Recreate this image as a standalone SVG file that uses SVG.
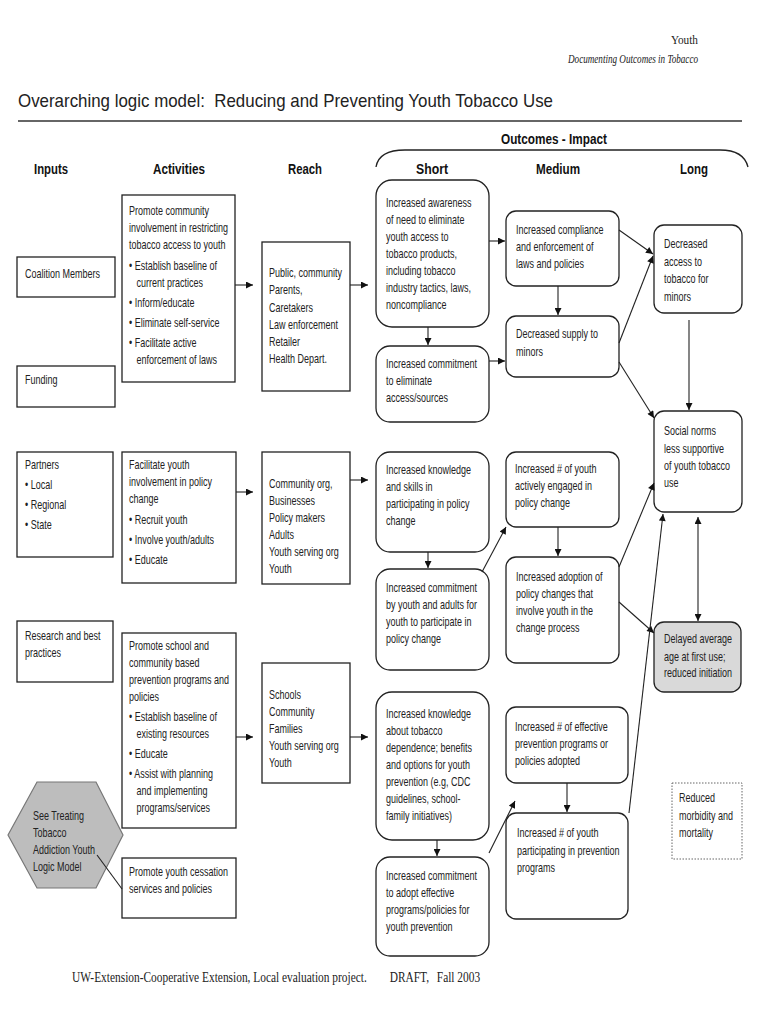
<svg xmlns="http://www.w3.org/2000/svg" width="768" height="1024" viewBox="0 0 768 1024">
<defs>
<style>
.t{font-family:"Liberation Sans",Arial,sans-serif;font-size:12px;fill:#222}
.h{font-family:"Liberation Sans",Arial,sans-serif;font-size:15px;font-weight:bold;fill:#111}
.sv{font-family:"Liberation Serif","Times New Roman",serif;fill:#222}
.box{fill:#fff;stroke:#222;stroke-width:1.3}
.rb{fill:#fff;stroke:#222;stroke-width:1.3}
.c line,.c path{stroke:#222;stroke-width:1.1;fill:none}
.c .a{marker-end:url(#ah)}
</style>
<marker id="ah" viewBox="0 0 10 10" refX="10" refY="5" markerWidth="8" markerHeight="7" markerUnits="userSpaceOnUse" orient="auto-start-reverse">
<path d="M0,0 L10,5 L0,10 z" fill="#111"/>
</marker>
</defs>
<rect width="768" height="1024" fill="#fff"/>

<g id="header">
<text class="sv" x="698" y="44" font-size="12" text-anchor="end" textLength="27" lengthAdjust="spacingAndGlyphs">Youth</text>
<text class="sv" x="698" y="63" font-size="12" font-style="italic" text-anchor="end" textLength="130" lengthAdjust="spacingAndGlyphs">Documenting Outcomes in Tobacco</text>
<text x="18" y="107" xml:space="preserve" font-family="Liberation Sans,Arial,sans-serif" font-size="19" fill="#222" textLength="535" lengthAdjust="spacingAndGlyphs">Overarching logic model:  Reducing and Preventing Youth Tobacco Use</text>
<line x1="18" y1="121" x2="742" y2="121" stroke="#333" stroke-width="1.5"/>
<text class="h" x="554" y="144" text-anchor="middle" textLength="106" lengthAdjust="spacingAndGlyphs">Outcomes - Impact</text>
<path d="M376,167 C378,155 388,150 405,150 L720,150 C735,150 745,155 748,167" fill="none" stroke="#222" stroke-width="1.3"/>
<text class="h" x="51" y="174" text-anchor="middle" textLength="34" lengthAdjust="spacingAndGlyphs">Inputs</text>
<text class="h" x="179" y="174" text-anchor="middle" textLength="52" lengthAdjust="spacingAndGlyphs">Activities</text>
<text class="h" x="305" y="174" text-anchor="middle" textLength="34" lengthAdjust="spacingAndGlyphs">Reach</text>
<text class="h" x="432" y="174" text-anchor="middle" textLength="32" lengthAdjust="spacingAndGlyphs">Short</text>
<text class="h" x="558" y="174" text-anchor="middle" textLength="44" lengthAdjust="spacingAndGlyphs">Medium</text>
<text class="h" x="694" y="174" text-anchor="middle" textLength="28" lengthAdjust="spacingAndGlyphs">Long</text>
</g>

<g id="in1"><rect class="box" x="17" y="257" width="98" height="40"/>
<text class="t" transform="translate(25 0) scale(0.75 1)"><tspan x="0" y="278">Coalition Members</tspan></text></g>
<g id="in2"><rect class="box" x="17" y="366" width="98" height="41"/>
<text class="t" transform="translate(25 0) scale(0.75 1)"><tspan x="0" y="384">Funding</tspan></text></g>
<g id="in3"><rect class="box" x="17" y="452" width="96" height="105"/>
<text class="t" transform="translate(25 0) scale(0.75 1)"><tspan x="0" y="469">Partners</tspan><tspan x="0" y="489">• Local</tspan><tspan x="0" y="509">• Regional</tspan><tspan x="0" y="529">• State</tspan></text></g>
<g id="in4"><rect class="box" x="17" y="621" width="96" height="61"/>
<text class="t" transform="translate(25 0) scale(0.75 1)"><tspan x="0" y="640">Research and best</tspan><tspan x="0" y="657">practices</tspan></text></g>
<g id="hex"><polygon points="8,835 37,782 96,782 123,835 96,888 37,888" fill="#bdbdbd" stroke="#777" stroke-width="1.2"/>
<text class="t" transform="translate(33 0) scale(0.75 1)"><tspan x="0" y="820">See Treating</tspan><tspan x="0" y="837">Tobacco</tspan><tspan x="0" y="854">Addiction Youth</tspan><tspan x="0" y="871">Logic Model</tspan></text></g>

<g id="act1"><rect class="box" x="122" y="195" width="113" height="187"/>
<text class="t" transform="translate(129 0) scale(0.75 1)"><tspan x="0" y="215">Promote community</tspan><tspan x="0" y="232">involvement in restricting</tspan><tspan x="0" y="249">tobacco access to youth</tspan><tspan x="0" y="270">• Establish baseline of</tspan><tspan x="10" y="287">current practices</tspan><tspan x="0" y="307">• Inform/educate</tspan><tspan x="0" y="327">• Eliminate self-service</tspan><tspan x="0" y="347">•  Facilitate active</tspan><tspan x="10" y="364">enforcement of laws</tspan></text></g>
<g id="act2"><rect class="box" x="122" y="452" width="114" height="131"/>
<text class="t" transform="translate(129 0) scale(0.75 1)"><tspan x="0" y="469">Facilitate youth</tspan><tspan x="0" y="486">involvement in policy</tspan><tspan x="0" y="503">change</tspan><tspan x="0" y="524">• Recruit youth</tspan><tspan x="0" y="544">• Involve youth/adults</tspan><tspan x="0" y="564">• Educate</tspan></text></g>
<g id="act3"><rect class="box" x="122" y="633" width="114" height="195"/>
<text class="t" transform="translate(129 0) scale(0.75 1)"><tspan x="0" y="650">Promote school and</tspan><tspan x="0" y="667">community based</tspan><tspan x="0" y="684">prevention programs and</tspan><tspan x="0" y="701">policies</tspan><tspan x="0" y="721">• Establish baseline of</tspan><tspan x="10" y="738">existing  resources</tspan><tspan x="0" y="758">• Educate</tspan><tspan x="0" y="778">• Assist with planning</tspan><tspan x="10" y="795">and implementing</tspan><tspan x="10" y="812">programs/services</tspan></text></g>
<g id="act4"><rect class="box" x="122" y="858" width="114" height="60"/>
<text class="t" transform="translate(129 0) scale(0.75 1)"><tspan x="0" y="876">Promote youth cessation</tspan><tspan x="0" y="893">services and policies</tspan></text></g>

<g id="reach1"><rect class="box" x="262" y="242" width="88" height="149"/>
<text class="t" transform="translate(269 0) scale(0.75 1)"><tspan x="0" y="277">Public, community</tspan><tspan x="0" y="294">Parents,</tspan><tspan x="0" y="312">Caretakers</tspan><tspan x="0" y="329">Law enforcement</tspan><tspan x="0" y="346">Retailer</tspan><tspan x="0" y="363">Health Depart.</tspan></text></g>
<g id="reach2"><rect class="box" x="262" y="452" width="88" height="132"/>
<text class="t" transform="translate(269 0) scale(0.75 1)"><tspan x="0" y="488">Community org,</tspan><tspan x="0" y="505">Businesses</tspan><tspan x="0" y="522">Policy makers</tspan><tspan x="0" y="539">Adults</tspan><tspan x="0" y="556">Youth serving org</tspan><tspan x="0" y="573">Youth</tspan></text></g>
<g id="reach3"><rect class="box" x="262" y="663" width="88" height="120"/>
<text class="t" transform="translate(269 0) scale(0.75 1)"><tspan x="0" y="699">Schools</tspan><tspan x="0" y="716">Community</tspan><tspan x="0" y="733">Families</tspan><tspan x="0" y="750">Youth serving org</tspan><tspan x="0" y="767">Youth</tspan></text></g>

<g id="s1"><rect class="rb" x="376" y="180" width="113" height="147" rx="16"/>
<text class="t" transform="translate(386 0) scale(0.75 1)"><tspan x="0" y="207">Increased awareness</tspan><tspan x="0" y="224">of need to eliminate</tspan><tspan x="0" y="241">youth access to</tspan><tspan x="0" y="258">tobacco products,</tspan><tspan x="0" y="275">including tobacco</tspan><tspan x="0" y="292">industry tactics, laws,</tspan><tspan x="0" y="309">noncompliance</tspan></text></g>
<g id="s2"><rect class="rb" x="376" y="346" width="113" height="76" rx="14"/>
<text class="t" transform="translate(386 0) scale(0.75 1)"><tspan x="0" y="368">Increased commitment</tspan><tspan x="0" y="385">to eliminate</tspan><tspan x="0" y="402">access/sources</tspan></text></g>
<g id="s3"><rect class="rb" x="376" y="452" width="113" height="100" rx="14"/>
<text class="t" transform="translate(386 0) scale(0.75 1)"><tspan x="0" y="474">Increased knowledge</tspan><tspan x="0" y="491">and skills in</tspan><tspan x="0" y="508">participating in policy</tspan><tspan x="0" y="525">change</tspan></text></g>
<g id="s4"><rect class="rb" x="376" y="569" width="113" height="101" rx="14"/>
<text class="t" transform="translate(386 0) scale(0.75 1)"><tspan x="0" y="592">Increased commitment</tspan><tspan x="0" y="609">by youth and adults for</tspan><tspan x="0" y="626">youth to participate in</tspan><tspan x="0" y="643">policy change</tspan></text></g>
<g id="s5"><rect class="rb" x="376" y="692" width="113" height="148" rx="16"/>
<text class="t" transform="translate(386 0) scale(0.75 1)"><tspan x="0" y="718">Increased knowledge</tspan><tspan x="0" y="735">about tobacco</tspan><tspan x="0" y="752">dependence; benefits</tspan><tspan x="0" y="769">and options for youth</tspan><tspan x="0" y="786">prevention (e.g, CDC</tspan><tspan x="0" y="803">guidelines, school-</tspan><tspan x="0" y="820">family initiatives)</tspan></text></g>
<g id="s6"><rect class="rb" x="376" y="857" width="113" height="99" rx="14"/>
<text class="t" transform="translate(386 0) scale(0.75 1)"><tspan x="0" y="880">Increased commitment</tspan><tspan x="0" y="897">to adopt effective</tspan><tspan x="0" y="914">programs/policies for</tspan><tspan x="0" y="931">youth prevention</tspan></text></g>

<g id="m1"><rect class="rb" x="506" y="211" width="113" height="75" rx="10"/>
<text class="t" transform="translate(516 0) scale(0.75 1)"><tspan x="0" y="234">Increased compliance</tspan><tspan x="0" y="251">and enforcement of</tspan><tspan x="0" y="268">laws and policies</tspan></text></g>
<g id="m2"><rect class="rb" x="506" y="316" width="113" height="61" rx="10"/>
<text class="t" transform="translate(516 0) scale(0.75 1)"><tspan x="0" y="338">Decreased supply to</tspan><tspan x="0" y="356">minors</tspan></text></g>
<g id="m3"><rect class="rb" x="506" y="452" width="113" height="75" rx="10"/>
<text class="t" transform="translate(515 0) scale(0.75 1)"><tspan x="0" y="473">Increased # of youth</tspan><tspan x="0" y="490">actively engaged in</tspan><tspan x="0" y="507">policy change</tspan></text></g>
<g id="m4"><rect class="rb" x="506" y="557" width="113" height="106" rx="10"/>
<text class="t" transform="translate(516 0) scale(0.75 1)"><tspan x="0" y="581">Increased adoption of</tspan><tspan x="0" y="598">policy changes that</tspan><tspan x="0" y="615">involve youth in the</tspan><tspan x="0" y="632">change process</tspan></text></g>
<g id="m5"><rect class="rb" x="506" y="707" width="122" height="76" rx="10"/>
<text class="t" transform="translate(515 0) scale(0.75 1)"><tspan x="0" y="731">Increased # of effective</tspan><tspan x="0" y="748">prevention programs or</tspan><tspan x="0" y="765">policies adopted</tspan></text></g>
<g id="m6"><rect class="rb" x="506" y="813" width="122" height="106" rx="10"/>
<text class="t" transform="translate(517 0) scale(0.75 1)"><tspan x="0" y="837">Increased # of youth</tspan><tspan x="0" y="855">participating in prevention</tspan><tspan x="0" y="872">programs</tspan></text></g>

<g id="l1"><rect class="rb" x="654" y="225" width="88" height="88" rx="10"/>
<text class="t" transform="translate(664 0) scale(0.75 1)"><tspan x="0" y="248">Decreased</tspan><tspan x="0" y="266">access to</tspan><tspan x="0" y="283">tobacco for</tspan><tspan x="0" y="301">minors</tspan></text></g>
<g id="l2"><rect class="rb" x="654" y="411" width="88" height="101" rx="10"/>
<text class="t" transform="translate(664 0) scale(0.75 1)"><tspan x="0" y="435">Social norms</tspan><tspan x="0" y="453">less supportive</tspan><tspan x="0" y="470">of youth tobacco</tspan><tspan x="0" y="487">use</tspan></text></g>
<g id="l3"><rect x="654" y="622" width="87" height="70" rx="10" fill="#d9d9d9" stroke="#222" stroke-width="1.3"/>
<text class="t" transform="translate(664 0) scale(0.75 1)"><tspan x="0" y="643">Delayed average</tspan><tspan x="0" y="661">age at first use;</tspan><tspan x="0" y="677">reduced initiation</tspan></text></g>
<g id="l4"><rect x="672" y="783" width="70" height="76" fill="#fff" stroke="#666" stroke-width="1" stroke-dasharray="1.5,1.5"/>
<text class="t" transform="translate(679 0) scale(0.75 1)"><tspan x="0" y="802">Reduced</tspan><tspan x="0" y="820">morbidity and</tspan><tspan x="0" y="837">mortality</tspan></text></g>

<g id="connectors" class="c">
<line class="a" x1="235" y1="285" x2="253" y2="285"/>
<line class="a" x1="350" y1="285" x2="368" y2="285"/>
<line class="a" x1="236" y1="492" x2="253" y2="492"/>
<line class="a" x1="350" y1="480" x2="368" y2="480"/>
<line class="a" x1="236" y1="737" x2="253" y2="737"/>
<line class="a" x1="350" y1="737" x2="368" y2="737"/>
<line class="a" x1="428" y1="327" x2="428" y2="345"/>
<line class="a" x1="489" y1="241" x2="505" y2="241"/>
<line class="a" x1="489" y1="361" x2="505" y2="361"/>
<line class="a" x1="558" y1="286" x2="558" y2="315"/>
<line class="a" x1="619" y1="230" x2="653" y2="254"/>
<line class="a" x1="619" y1="343" x2="653" y2="256"/>
<line class="a" x1="619" y1="362" x2="654" y2="418"/>
<line class="a" x1="689" y1="320" x2="689" y2="410"/>
<line class="a" x1="428" y1="552" x2="428" y2="568"/>
<line class="a" x1="482" y1="572" x2="506" y2="527"/>
<line class="a" x1="558" y1="527" x2="558" y2="556"/>
<line class="a" x1="619" y1="567" x2="654" y2="483"/>
<line class="a" x1="619" y1="602" x2="654" y2="633"/>
<line class="a" x1="698" y1="517" x2="698" y2="621" marker-start="url(#ah)"/>
<line class="a" x1="629" y1="813" x2="663" y2="514"/>
<line class="a" x1="437" y1="840" x2="437" y2="856"/>
<line class="a" x1="489" y1="853" x2="515" y2="801"/>
<line class="a" x1="567" y1="783" x2="567" y2="812"/>
<line x1="97" y1="855" x2="122" y2="889"/>
</g>

<g id="footer">
<text class="sv" font-size="15" transform="translate(72 0) scale(0.76 1)"><tspan x="0" y="982">UW-Extension-Cooperative Extension, Local evaluation project.</tspan><tspan x="418" y="982">DRAFT,</tspan><tspan x="480" y="982">Fall 2003</tspan></text>
</g>
</svg>
